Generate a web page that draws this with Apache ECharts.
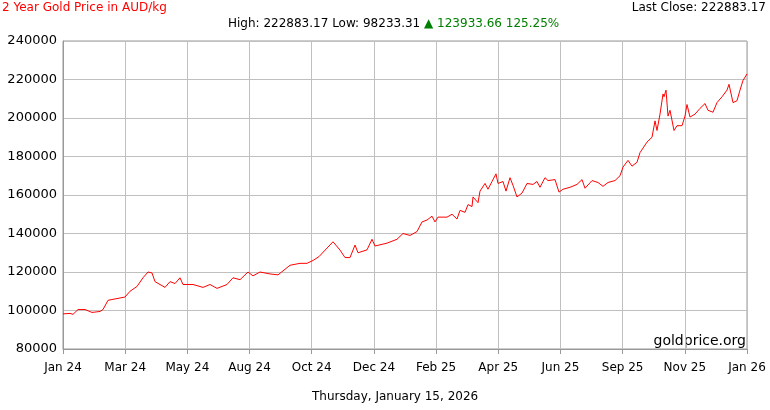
<!DOCTYPE html>
<html><head><meta charset="utf-8">
<script src="https://cdn.jsdelivr.net/npm/echarts@6/dist/echarts.min.js"></script>
<style>html,body{margin:0;padding:0;background:#fff}#c{width:770px;height:410px}</style>
</head><body><div id="c"></div>
<script>
const tickLabels = ['Jan 24','Mar 24','May 24','Aug 24','Oct 24','Dec 24','Feb 25','Apr 25','Jun 25','Sep 25','Nov 25','Jan 26'];
// horizontal positions, in screen px of reference (63..747), converted below to tick units
const px = [63,70,73,78,85,92,100,103,108,115,125,130,137,143,148,152,155,165,170,175,180,183,193,203,210,217,227,233,240,248,253,260,270,278,290,300,307,313,319,
333,340,345,350,355,358,367,372,375,387,397,403,410,417,422,427,432,435,438,447,452,457,460,465,468,472,473,478,480,485,488,492,496,498,503,506,510,513,517,522,527,533,537,540,
545,548,555,559,563,570,577,582,585,592,598,603,608,615,620,623,628,632,637,640,647,652,655,657,660,663,664,666,668,670,674,677,682,685,687,690,695,700,705,708,713,717,722,727,729,733,737,740,743,747];
const prices = [98233,98500,98000,100500,100500,99000,99500,100500,105300,106000,107000,110000,112500,117000,120000,119500,115000,112000,115000,114000,117000,113500,113500,112000,113500,111500,113500,117000,116000,120000,118000,120000,119000,118500,123500,124500,124500,126000,128000,
135700,131400,127500,127500,134000,130000,131500,137000,133500,135000,137000,140000,139000,141000,146000,147000,149000,146000,148500,148500,150000,147500,152000,151000,155000,154000,159000,156000,162000,166000,163000,167000,171000,166000,167000,162000,169000,165000,159000,161000,166000,165500,167000,164000,
169000,167500,168000,161500,163000,164000,165500,168000,163500,167500,166500,164500,166500,167500,170000,174500,178000,175000,177000,182000,187500,190000,198500,193500,202000,212500,211000,214500,201000,204000,193500,196000,196000,201000,207000,200500,202000,205000,207500,204000,203000,208000,211000,214500,217500,208000,209000,214500,219500,222883.17];
const data = px.map((p,i)=>[(p-63)/684*11, prices[i]]);
const ff = 'DejaVu Sans';
const chart = echarts.init(document.getElementById('c'));
chart.setOption({
  animation:false,
  grid:{left:63,right:23,top:41,bottom:61,show:true,borderColor:'#999',borderWidth:1},
  xAxis:{type:'value',min:0,max:11,interval:1,
    axisLine:{show:true,lineStyle:{color:'#999'}},axisTick:{show:true,length:5,lineStyle:{color:'#999'}},
    splitLine:{show:true,lineStyle:{color:'#c0c0c0'}},
    axisLabel:{color:'#000',fontFamily:ff,fontSize:12,margin:13,formatter:v=>tickLabels[Math.round(v)]}},
  yAxis:{type:'value',min:80000,max:240000,interval:20000,
    axisLine:{show:true,lineStyle:{color:'#999'}},axisTick:{show:false},
    splitLine:{show:true,lineStyle:{color:'#c0c0c0'}},
    axisLabel:{color:'#000',fontFamily:ff,fontSize:13,margin:6,formatter:v=>String(v)}},
  series:[{type:'line',data:data,showSymbol:false,lineStyle:{color:'#ff0000',width:1}}],
  graphic:[
    {type:'text',left:2,top:2,style:{text:'2 Year Gold Price in AUD/kg',fill:'#ff0000',font:'12px "DejaVu Sans"'}},
    {type:'text',right:4,top:2,style:{text:'Last Close: 222883.17',fill:'#000',font:'12px "DejaVu Sans"'}},
    {type:'text',left:228,top:18,style:{text:'{a|High: 222883.17 Low: 98233.31 }{b|▲ 123933.66 125.25%}',rich:{a:{fill:'#000',font:'12px "DejaVu Sans"'},b:{fill:'#008000',font:'12px "DejaVu Sans"'}}}},
    {type:'text',right:24,top:334,style:{text:'goldprice.org',fill:'#000',font:'14px "DejaVu Sans"'}},
    {type:'text',left:312,top:391,style:{text:'Thursday, January 15, 2026',fill:'#000',font:'12px "DejaVu Sans"'}}
  ]
});
</script></body></html>
